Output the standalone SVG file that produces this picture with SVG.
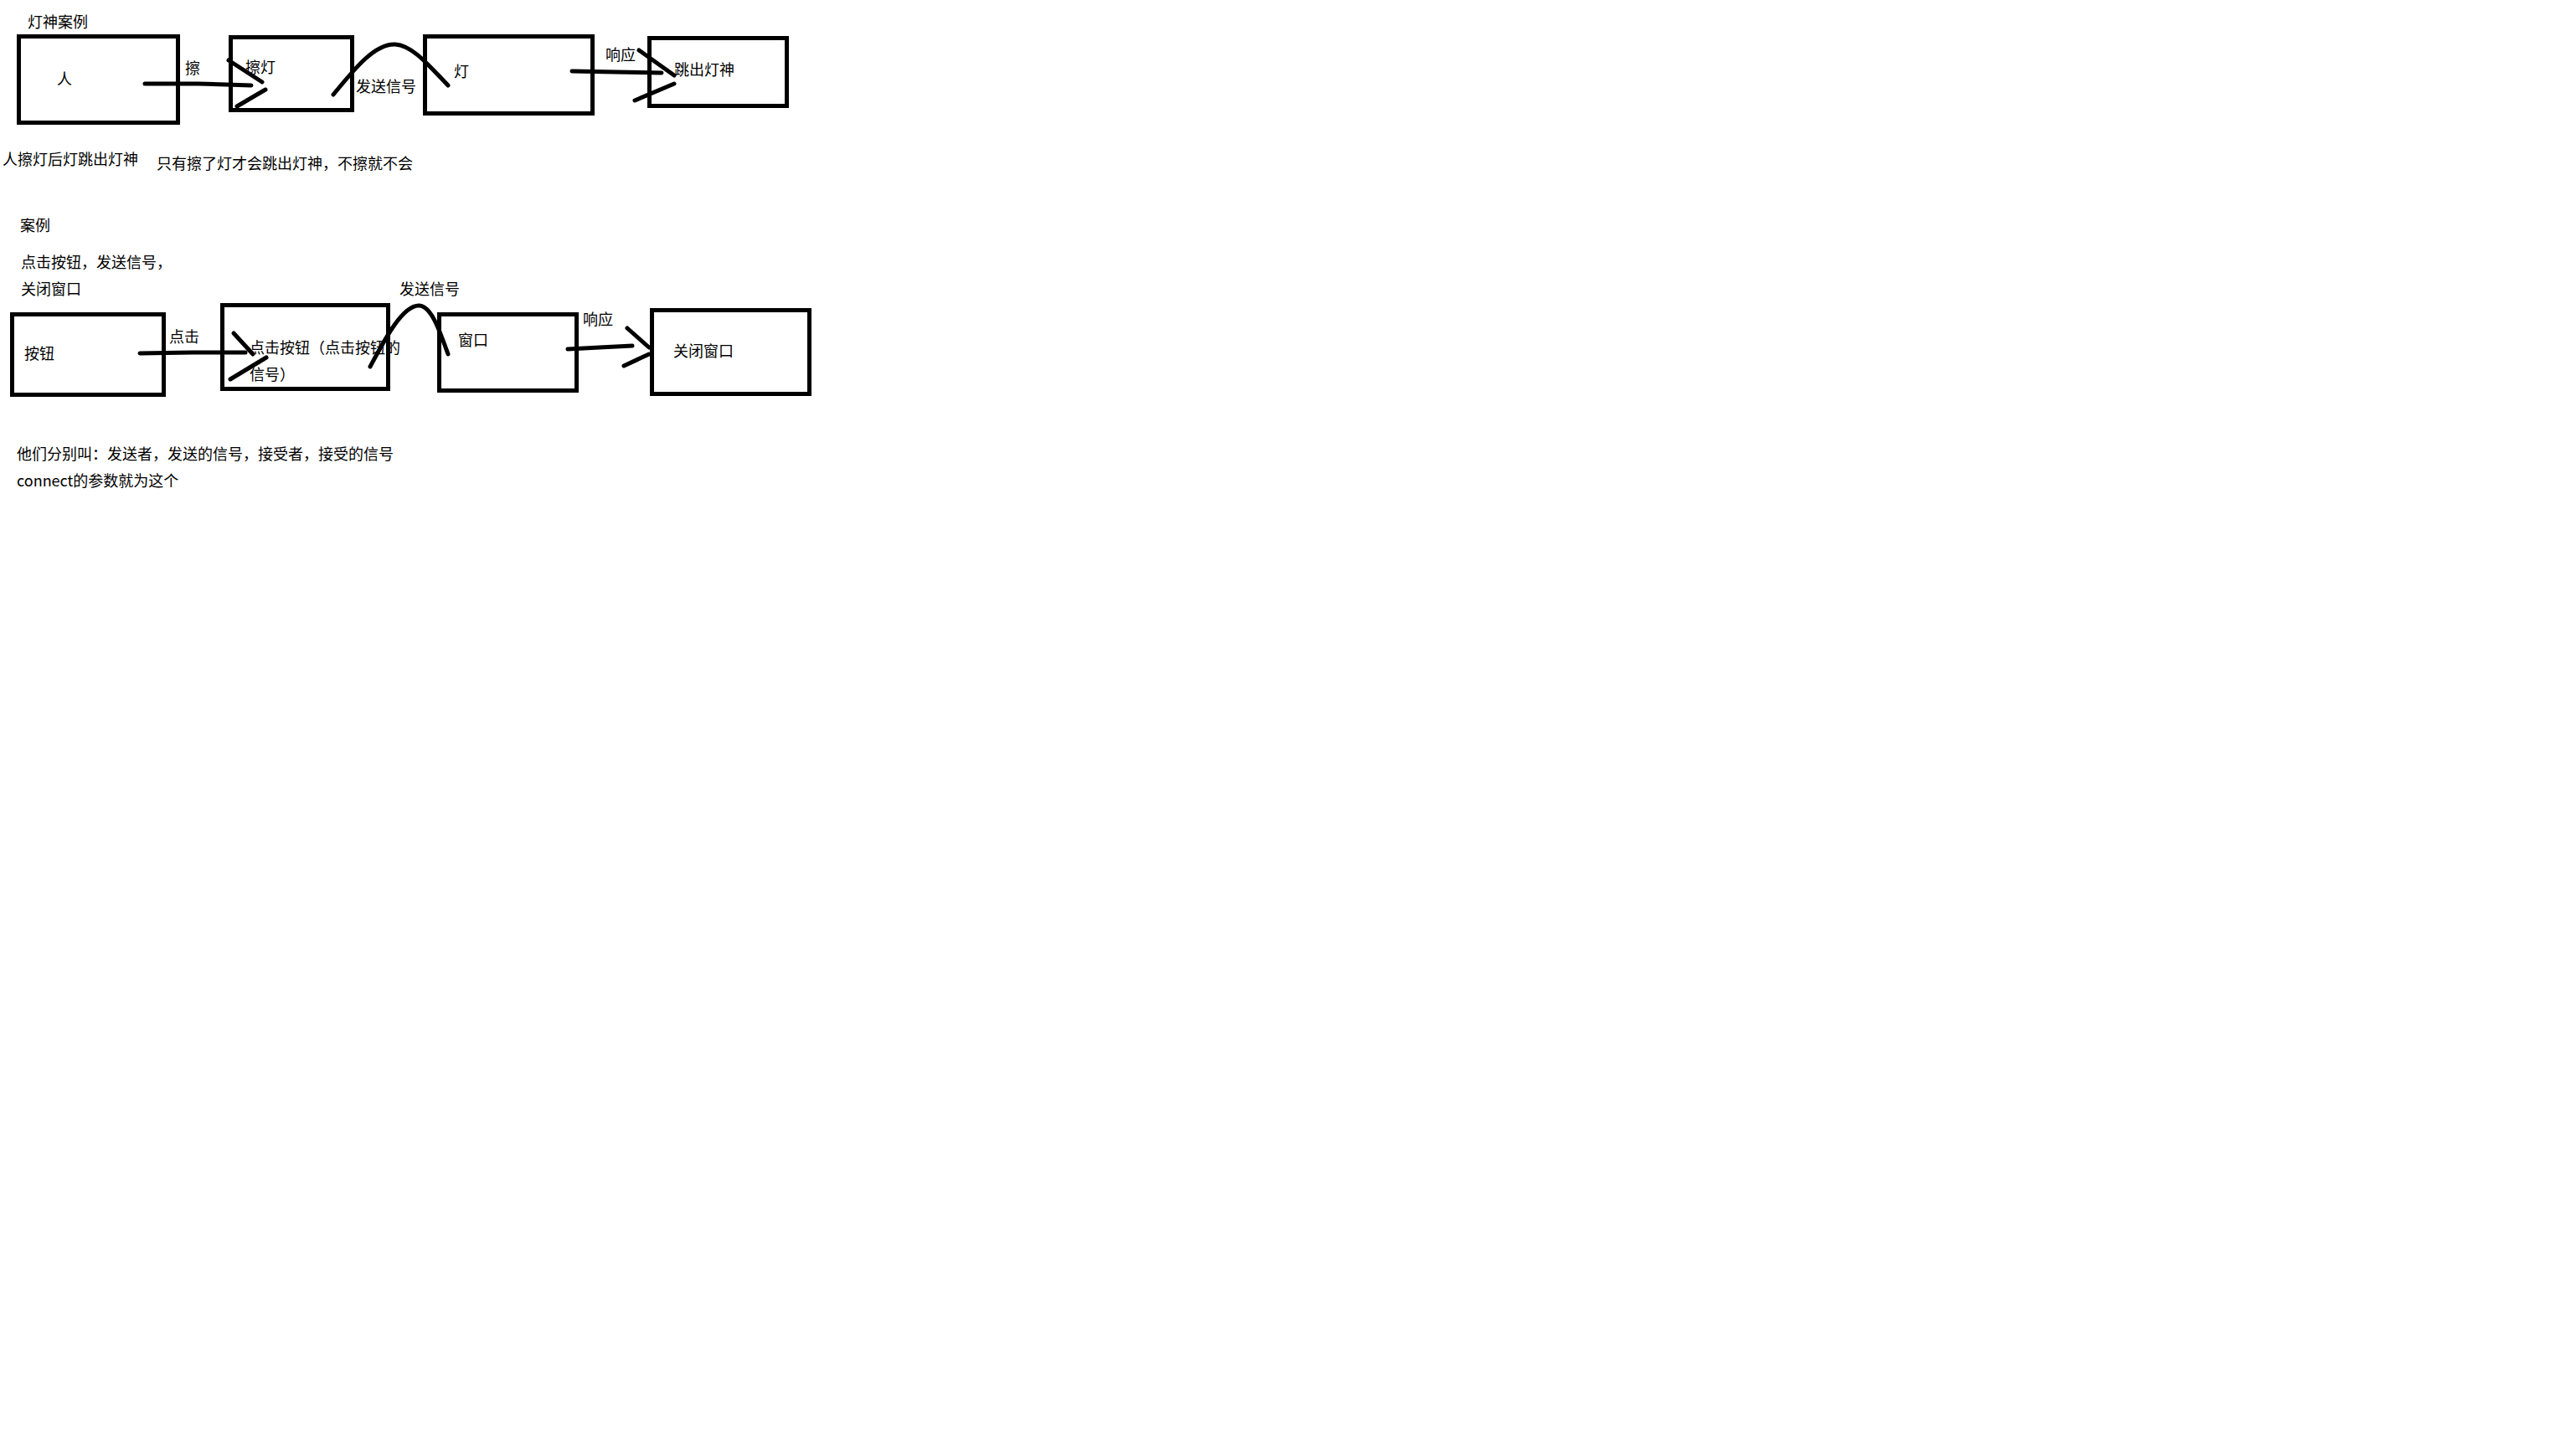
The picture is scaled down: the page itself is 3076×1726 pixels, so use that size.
<svg xmlns="http://www.w3.org/2000/svg" width="3076" height="1726" viewBox="0 0 3076 1726">
<style>
.box{fill:none;stroke:#000;stroke-width:5}
.ln{fill:none;stroke:#000;stroke-width:5;stroke-linecap:round;stroke-linejoin:round}
text{font-family:"Microsoft YaHei","Noto Sans CJK SC","Noto Sans",sans-serif;font-size:18px;fill:#000}
</style>
<rect width="3076" height="1726" fill="#fff"/>
<text x="33" y="33">灯神案例</text>
<g id="n-ren"><rect class="box" x="22.5" y="43.5" width="190" height="103"/><text x="68" y="101">人</text></g>
<g id="n-cadeng"><rect class="box" x="275.5" y="44.5" width="145" height="87"/><text x="293" y="87">擦灯</text></g>
<g id="n-deng"><rect class="box" x="507.5" y="43.5" width="200" height="92"/><text x="542" y="92">灯</text></g>
<g id="n-tiaochu"><rect class="box" x="775.5" y="45.5" width="164" height="81"/><text x="805" y="90">跳出灯神</text></g>
<text x="3" y="197">人擦灯后灯跳出灯神</text>
<text x="187" y="202">只有擦了灯才会跳出灯神，不擦就不会</text>
<text x="24" y="276">案例</text>
<text x="25" y="320">点击按钮，发送信号，</text>
<text x="25" y="352">关闭窗口</text>
<g id="n-anniu"><rect class="box" x="14.5" y="375.5" width="181" height="96"/><text x="29" y="429">按钮</text></g>
<g id="n-dianji"><rect class="box" x="265.5" y="364.5" width="198" height="100"/><text x="298" y="422">点击按钮（点击按钮的</text><text x="298" y="454">信号）</text></g>
<g id="n-chuangkou"><rect class="box" x="524.5" y="375.5" width="164" height="91"/><text x="547" y="413">窗口</text></g>
<g id="n-guanbi"><rect class="box" x="778.5" y="370.5" width="188" height="100"/><text x="804" y="426">关闭窗口</text></g>
<g id="connectors">
<polyline class="ln" points="173,100 237,100 300,102"/>
<line class="ln" x1="273" y1="72" x2="313" y2="98"/>
<line class="ln" x1="283" y1="127" x2="317" y2="107"/>
<text x="221" y="88">擦</text>
<path class="ln" d="M398,113 C425,80 448,52 472,53 C492,54 512,78 535,102"/>
<text x="425" y="110">发送信号</text>
<polyline class="ln" points="683,85 735,86 790,87"/>
<line class="ln" x1="763" y1="60" x2="805" y2="90"/>
<line class="ln" x1="758" y1="120" x2="805" y2="100"/>
<text x="723" y="72">响应</text>
<polyline class="ln" points="167,422 230,421 293,421"/>
<line class="ln" x1="279" y1="398" x2="302" y2="423"/>
<line class="ln" x1="275" y1="453" x2="318" y2="427"/>
<text x="202" y="409">点击</text>
<path class="ln" d="M442,438 C458,408 480,365 500,365 C515,365 525,395 535,423"/>
<text x="477" y="352">发送信号</text>
<polyline class="ln" points="678,417 716,415 755,413"/>
<line class="ln" x1="749" y1="392" x2="775" y2="415"/>
<line class="ln" x1="745" y1="437" x2="775" y2="423"/>
<text x="696" y="388">响应</text>
</g>
<text x="20" y="549">他们分别叫：发送者，发送的信号，接受者，接受的信号</text>
<text x="20" y="581">connect的参数就为这个</text>
</svg>
